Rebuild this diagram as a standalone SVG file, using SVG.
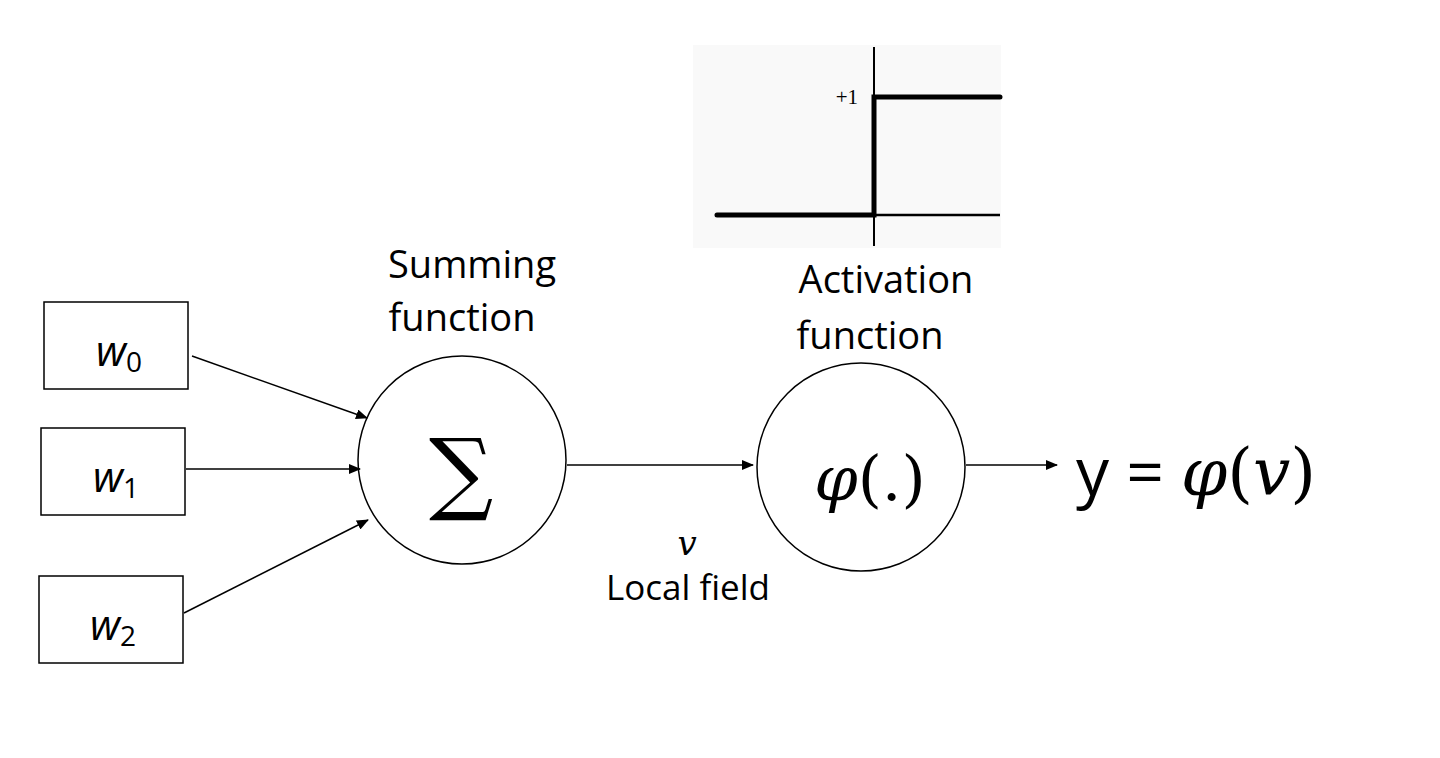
<svg xmlns="http://www.w3.org/2000/svg" width="1440" height="758" viewBox="0 0 1440 758">
<style>
.box{fill:#fff;stroke:#000;stroke-width:1.5}
.t{font-family:"Open Sans","Liberation Sans",sans-serif;fill:#000}
.m{font-family:"DejaVu Serif","Liberation Serif",serif;font-style:italic;fill:#000}
.w{font-family:"Open Sans","Liberation Sans",sans-serif;font-style:italic;fill:#000}
.c{stroke:#000;stroke-width:1.5;fill:none;marker-end:url(#a)}
</style>
<defs><marker id="a" markerWidth="12" markerHeight="10" refX="11" refY="5" orient="auto" markerUnits="userSpaceOnUse"><path d="M0,0L12,5L0,10z"/></marker></defs>
<rect width="1440" height="758" fill="#fff"/>
<g id="graph">
<rect x="693" y="45" width="308" height="203" fill="#f9f9f9"/>
<line x1="874" y1="47" x2="874" y2="246" stroke="#000" stroke-width="2"/>
<line x1="874" y1="215" x2="1000" y2="215" stroke="#000" stroke-width="2.5"/>
<path d="M717,215H874V97H1000" stroke="#000" stroke-width="5" fill="none" stroke-linecap="round"/>
<text x="858" y="104" font-family="Liberation Serif,serif" font-size="21" text-anchor="end">+1</text>
</g>
<g id="w0"><rect class="box" x="44" y="302" width="144" height="87"/><text class="w" x="96" y="366" font-size="42">w<tspan font-style="normal" font-size="28" dy="6">0</tspan></text></g>
<g id="w1"><rect class="box" x="41" y="428" width="144" height="87"/><text class="w" x="93" y="492" font-size="42">w<tspan font-style="normal" font-size="28" dy="6">1</tspan></text></g>
<g id="w2"><rect class="box" x="39" y="576" width="144" height="87"/><text class="w" x="90" y="640" font-size="42">w<tspan font-style="normal" font-size="28" dy="6">2</tspan></text></g>
<g id="sum"><circle cx="462" cy="460" r="104" fill="#fff" stroke="#000" stroke-width="1.5"/><text x="461" y="503" font-family="DejaVu Serif,serif" font-size="90" text-anchor="middle">∑</text>
<text class="t" x="472" y="278" font-size="38" text-anchor="middle">Summing</text><text class="t" x="462" y="331" font-size="38" text-anchor="middle">function</text></g>
<g id="phi"><circle cx="861" cy="467" r="104" fill="#fff" stroke="#000" stroke-width="1.5"/><text class="m" x="870" y="500" font-size="62" text-anchor="middle">φ<tspan font-style="normal">(.)</tspan></text>
<text class="t" x="886" y="293" font-size="38" text-anchor="middle">Activation</text><text class="t" x="870" y="349" font-size="38" text-anchor="middle">function</text></g>
<g id="out"><text x="1076" y="495" font-size="66"><tspan class="t">y = </tspan><tspan class="m">φ</tspan><tspan font-family="DejaVu Serif,serif">(</tspan><tspan class="m">v</tspan><tspan font-family="DejaVu Serif,serif">)</tspan></text></g>
<g id="field"><text class="m" x="687" y="555" font-size="34" text-anchor="middle">v</text><text class="t" x="688" y="600" font-size="35" text-anchor="middle">Local field</text></g>
<g id="connectors">
<line class="c" x1="192" y1="356" x2="367" y2="418"/>
<line class="c" x1="186" y1="469" x2="360" y2="469"/>
<line class="c" x1="184" y1="613" x2="368" y2="520"/>
<line class="c" x1="567" y1="465" x2="753" y2="465"/>
<line class="c" x1="966" y1="465" x2="1057" y2="465"/>
</g>
</svg>
